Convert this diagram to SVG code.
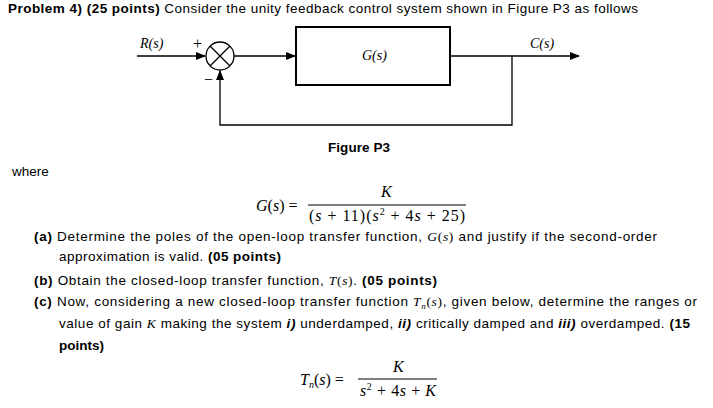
<svg xmlns="http://www.w3.org/2000/svg" width="713" height="408" viewBox="0 0 713 408">
<style>
.t{font-family:"Liberation Sans",sans-serif;font-size:13.5px;fill:#000}
.m{font-family:"Liberation Serif",serif;font-size:16px;fill:#000}
.mi{font-family:"Liberation Serif",serif;font-size:14px;font-style:italic;fill:#000}
.l{stroke:#000;stroke-width:1.3;fill:none}
</style>
<defs><marker id="a" markerWidth="10" markerHeight="8" refX="9" refY="4" orient="auto" markerUnits="userSpaceOnUse"><path d="M0,0L10,4L0,8z" fill="#000"/></marker></defs>
<rect width="713" height="408" fill="#fff"/>
<text class="t" x="8" y="13" textLength="630"><tspan font-weight="bold">Problem 4) (25 points)</tspan> Consider the unity feedback control system shown in Figure P3 as follows</text>
<g id="sum"><circle class="l" cx="220" cy="56" r="14"/><path class="l" d="M210,46L230,66M230,46L210,66"/>
<text class="m" x="193" y="49" font-size="11">+</text><text class="m" x="204" y="85" font-size="11">−</text></g>
<g id="G"><rect x="296" y="27" width="154" height="58" fill="none" stroke="#000" stroke-width="2"/><text class="mi" x="362" y="60">G(s)</text></g>
<text class="mi" x="140" y="48">R(s)</text>
<text class="mi" x="530" y="48">C(s)</text>
<g id="connectors">
<path class="l" d="M137,56H205" marker-end="url(#a)"/>
<path class="l" d="M234,56H295" marker-end="url(#a)"/>
<path class="l" d="M450,56H579" marker-end="url(#a)"/>
<path class="l" d="M512,56V125H220V71" marker-end="url(#a)"/>
</g>
<text class="t" x="328" y="152" font-weight="bold" textLength="62">Figure P3</text>
<text class="t" x="12" y="176">where</text>
<text class="m" x="256" y="211"><tspan font-style="italic">G</tspan>(<tspan font-style="italic">s</tspan>) =</text>
<text class="m" x="381" y="197" font-style="italic">K</text>
<line x1="308" y1="205" x2="466" y2="205" stroke="#000" stroke-width="1"/>
<text class="m" x="309" y="221" textLength="156">(<tspan font-style="italic">s</tspan> + 11)(<tspan font-style="italic">s</tspan><tspan font-size="10" dy="-6">2</tspan><tspan dy="6"> + 4</tspan><tspan font-style="italic">s</tspan> + 25)</text>
<text class="t" x="34" y="241" textLength="623"><tspan font-weight="bold">(a)</tspan> Determine the poles of the open-loop transfer function, <tspan font-family="Liberation Serif" font-style="italic">G</tspan><tspan font-family="Liberation Serif">(<tspan font-style="italic">s</tspan>)</tspan> and justify if the second-order</text>
<text class="t" x="59" y="261" textLength="222">approximation is valid. <tspan font-weight="bold">(05 points)</tspan></text>
<text class="t" x="34" y="285" textLength="403"><tspan font-weight="bold">(b)</tspan> Obtain the closed-loop transfer function, <tspan font-family="Liberation Serif" font-style="italic">T</tspan><tspan font-family="Liberation Serif">(<tspan font-style="italic">s</tspan>)</tspan>. <tspan font-weight="bold">(05 points)</tspan></text>
<text class="t" x="34" y="306" textLength="663"><tspan font-weight="bold">(c)</tspan> Now, considering a new closed-loop transfer function <tspan font-family="Liberation Serif" font-style="italic">T</tspan><tspan font-family="Liberation Serif" font-style="italic" font-size="9" dy="3">n</tspan><tspan font-family="Liberation Serif" dy="-3">(<tspan font-style="italic">s</tspan>)</tspan>, given below, determine the ranges or</text>
<text class="t" x="59" y="328" textLength="631">value of gain <tspan font-family="Liberation Serif" font-style="italic">K</tspan> making the system <tspan font-weight="bold" font-style="italic">i)</tspan> underdamped, <tspan font-weight="bold" font-style="italic">ii)</tspan> critically damped and <tspan font-weight="bold" font-style="italic">iii)</tspan> overdamped. <tspan font-weight="bold">(15</tspan></text>
<text class="t" x="59" y="350" font-weight="bold">points)</text>
<text class="m" x="300" y="385"><tspan font-style="italic">T</tspan><tspan font-style="italic" font-size="10" dy="3">n</tspan><tspan dy="-3">(<tspan font-style="italic">s</tspan>) =</tspan></text>
<text class="m" x="393" y="372" font-style="italic" font-size="14">K</text>
<line x1="358" y1="379" x2="437" y2="379" stroke="#000" stroke-width="1"/>
<text class="m" x="360" y="396" textLength="76"><tspan font-style="italic">s</tspan><tspan font-size="10" dy="-6">2</tspan><tspan dy="6"> + 4</tspan><tspan font-style="italic">s</tspan> + <tspan font-style="italic">K</tspan></text>
</svg>
